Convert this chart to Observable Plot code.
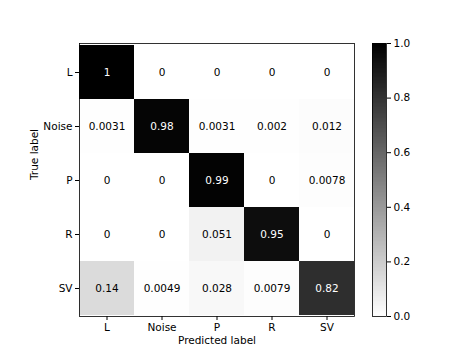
<!DOCTYPE html>
<html>
<head>
<meta charset="utf-8">
<script src="https://cdn.jsdelivr.net/npm/d3@7"></script>
<script src="https://cdn.jsdelivr.net/npm/@observablehq/plot@0.6"></script>
<style>
  html, body { margin: 0; padding: 0; background: #fff; }
  #chart { position: relative; width: 474px; height: 355px; }
  #chart svg { position: absolute; top: 0; overflow: visible; }
</style>
</head>
<body>
<div id="chart"></div>
<script>
const trueLabels = ["L", "Noise", "P", "R", "SV"];
const predLabels = ["L", "Noise", "P", "R", "SV"];
const rowL     = [1, 0, 0, 0, 0];
const rowNoise = [0.0031, 0.98, 0.0031, 0.002, 0.012];
const rowP     = [0, 0, 0.99, 0, 0.0078];
const rowR     = [0, 0, 0.051, 0.95, 0];
const rowSV    = [0.14, 0.0049, 0.028, 0.0079, 0.82];
const colorbarTicks = [0, 0.2, 0.4, 0.6, 0.8, 1.0];

const rows = [rowL, rowNoise, rowP, rowR, rowSV];
const cells = [];
rows.forEach((r, i) => r.forEach((v, j) => cells.push({t: trueLabels[i], p: predLabels[j], v})));
const fmt = d3.format(".2~g");
const font = "'DejaVu Sans', sans-serif";
const fs = 10.5;
const color = {type: "linear", domain: [0, 1], range: ["#ffffff", "#000000"], interpolate: "rgb"};

const main = Plot.plot({
  width: 474, height: 355,
  marginLeft: 79, marginRight: 120, marginTop: 43, marginBottom: 39,
  style: {fontFamily: font, fontSize: fs + "px", color: "#000", background: "transparent"},
  x: {domain: predLabels, padding: 0},
  y: {domain: trueLabels, padding: 0},
  color,
  marks: [
    Plot.cell(cells, {x: "p", y: "t", fill: "v"}),
    Plot.text(cells, {x: "p", y: "t", text: d => fmt(d.v), fill: d => d.v > 0.5 ? "#fff" : "#000", fontSize: fs}),
    Plot.frame({stroke: "#000", strokeWidth: 0.8}),
    Plot.axisX({tickSize: 4, tickPadding: 3, label: null, fontSize: fs}),
    Plot.axisY({tickSize: 4, tickPadding: 3, label: null, fontSize: fs}),
    Plot.text(["Predicted label"], {frameAnchor: "bottom", dy: 27, fontSize: fs}),
    Plot.text(["True label"], {frameAnchor: "left", dx: -45, rotate: -90, fontSize: fs})
  ]
});
main.style.left = "0px";
document.getElementById("chart").appendChild(main);

const stripes = d3.range(0, 1, 0.005).map(a => ({a, b: a + 0.005}));
const bar = Plot.plot({
  width: 60, height: 355,
  marginLeft: 0, marginRight: 46, marginTop: 43, marginBottom: 39,
  style: {fontFamily: font, fontSize: fs + "px", color: "#000", background: "transparent"},
  x: {domain: [0, 1], axis: null},
  y: {domain: [0, 1], axis: null},
  color,
  marks: [
    Plot.rect(stripes, {x1: 0, x2: 1, y1: "a", y2: "b", fill: d => (d.a + d.b) / 2, shapeRendering: "crispEdges"}),
    Plot.frame({stroke: "#000", strokeWidth: 0.8}),
    Plot.axisY({anchor: "right", ticks: colorbarTicks, tickFormat: d3.format(".1f"), tickSize: 4, tickPadding: 3, label: null, fontSize: fs})
  ]
});
bar.style.left = "372px";
document.getElementById("chart").appendChild(bar);
</script>
</body>
</html>
